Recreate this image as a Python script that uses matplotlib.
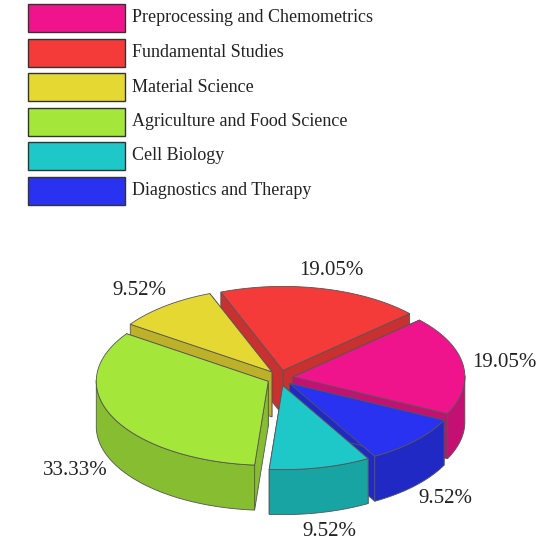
import numpy as np
import matplotlib
matplotlib.use("Agg")
import matplotlib.pyplot as plt
from matplotlib.patches import Polygon, Rectangle
import matplotlib.colors as mc

categories = ["Preprocessing and Chemometrics", "Fundamental Studies", "Material Science",
              "Agriculture and Food Science", "Cell Biology", "Diagnostics and Therapy"]
values = [19.05, 19.05, 9.52, 33.33, 9.52, 9.52]
colors = ["#F0148C", "#F53A3A", "#E6D832", "#A5E63A", "#1EC8C8", "#2832F0"]

plt.rcParams['font.family'] = ['Liberation Serif', 'DejaVu Serif']
fig = plt.figure(figsize=(5.5, 5.49), dpi=100)
ax = fig.add_axes([0, 0, 1, 1])
ax.set_xlim(0, 550); ax.set_ylim(549, 0); ax.axis('off')

# legend
for i, (c, col) in enumerate(zip(categories, colors)):
    y = 18 + i * 34.5
    ax.add_patch(Rectangle((28, y - 14), 97, 28, facecolor=col, edgecolor='#333333', lw=1))
    ax.text(132, y, c, fontsize=13, va='center', ha='left', color='#222222')

cx, cy, rx, ry, h, ex = 280, 378, 172, 84, 45, 13
start = -26.0
angles = np.cumsum([0] + [v / sum(values) * 360 for v in values]) + start

def pt(t, r=1.0, ox=0, oy=0):
    t = np.radians(t)
    return (ox + r * rx * np.cos(t), oy - r * ry * np.sin(t))

slices = []
for i, v in enumerate(values):
    a0, a1 = angles[i], angles[i + 1]
    mid = (a0 + a1) / 2
    ox, oy = cx + ex * np.cos(np.radians(mid)), cy - ex * 0.6 * np.sin(np.radians(mid))
    slices.append((i, a0, a1, mid, ox, oy))

order = sorted(slices, key=lambda s: -np.sin(np.radians(s[3])))
# walls, back to front
for i, a0, a1, mid, ox, oy in order:
    dark = tuple(np.array(mc.to_rgb(colors[i])) * 0.82)
    for a in (a0, a1):
        p = pt(a, 1, ox, oy)
        ax.add_patch(Polygon([(ox, oy), p, (p[0], p[1] + h), (ox, oy + h)],
                             facecolor=dark, edgecolor='#555555', lw=0.6))
    ts = np.linspace(a0, a1, 200)
    ts = ts[np.sin(np.radians(ts)) <= 0.02]
    if len(ts) > 1:
        arc = [pt(t, 1, ox, oy) for t in ts]
        wall = arc + [(x, y + h) for x, y in arc[::-1]]
        ax.add_patch(Polygon(wall, facecolor=dark, edgecolor='#555555', lw=0.6))
# tops
for i, a0, a1, mid, ox, oy in order:
    ts = np.linspace(a0, a1, 80)
    arc = [pt(t, 1, ox, oy) for t in ts]
    ax.add_patch(Polygon([(ox, oy)] + arc, facecolor=colors[i], edgecolor='#555555', lw=0.6))
    lx, ly = pt(mid, 1.32, cx, cy)
    if np.sin(np.radians(mid)) < 0:
        ly += h
    ax.text(lx, ly, f"{values[i]:.2f}%", fontsize=15, ha='center', va='center', color='#222222')

fig.savefig("out.png", dpi=100)
